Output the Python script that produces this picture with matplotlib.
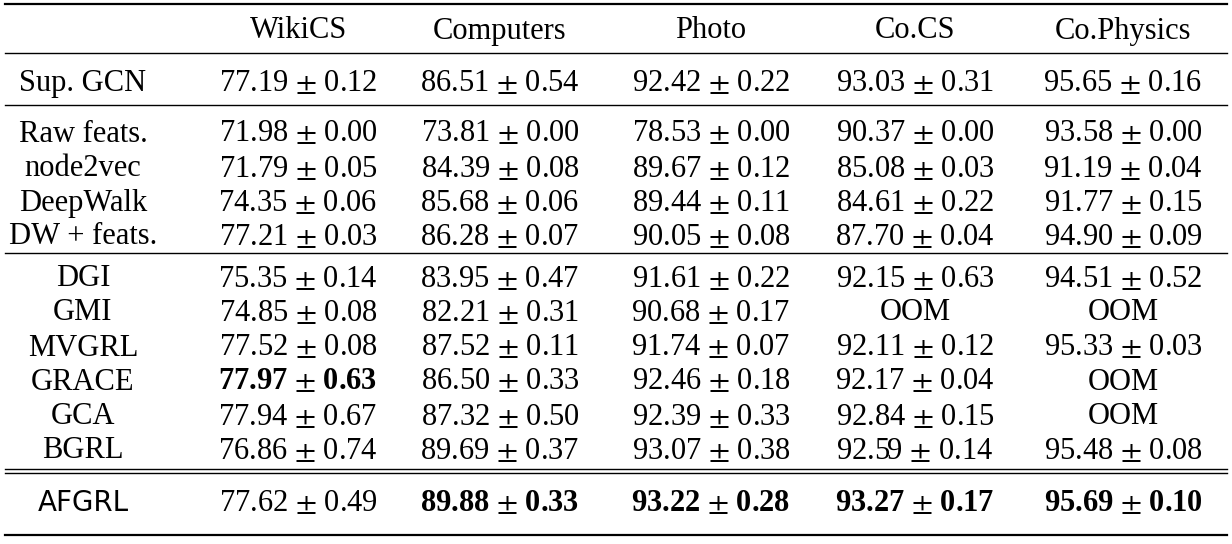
import matplotlib.pyplot as plt

datasets = ["WikiCS", "Computers", "Photo", "Co.CS", "Co.Physics"]
methods = ["Sup. GCN", "Raw feats.", "node2vec", "DeepWalk", "DW + feats.",
           "DGI", "GMI", "MVGRL", "GRACE", "GCA", "BGRL", "AFGRL"]
means = [
    ["77.19", "86.51", "92.42", "93.03", "95.65"],
    ["71.98", "73.81", "78.53", "90.37", "93.58"],
    ["71.79", "84.39", "89.67", "85.08", "91.19"],
    ["74.35", "85.68", "89.44", "84.61", "91.77"],
    ["77.21", "86.28", "90.05", "87.70", "94.90"],
    ["75.35", "83.95", "91.61", "92.15", "94.51"],
    ["74.85", "82.21", "90.68", "OOM", "OOM"],
    ["77.52", "87.52", "91.74", "92.11", "95.33"],
    ["77.97", "86.50", "92.46", "92.17", "OOM"],
    ["77.94", "87.32", "92.39", "92.84", "OOM"],
    ["76.86", "89.69", "93.07", "92.59", "95.48"],
    ["77.62", "89.88", "93.22", "93.27", "95.69"],
]
stds = [
    ["0.12", "0.54", "0.22", "0.31", "0.16"],
    ["0.00", "0.00", "0.00", "0.00", "0.00"],
    ["0.05", "0.08", "0.12", "0.03", "0.04"],
    ["0.06", "0.06", "0.11", "0.22", "0.15"],
    ["0.03", "0.07", "0.08", "0.04", "0.09"],
    ["0.14", "0.47", "0.22", "0.63", "0.52"],
    ["0.08", "0.31", "0.17", "", ""],
    ["0.08", "0.11", "0.07", "0.12", "0.03"],
    ["0.63", "0.33", "0.18", "0.04", ""],
    ["0.67", "0.50", "0.33", "0.15", ""],
    ["0.74", "0.37", "0.38", "0.14", "0.08"],
    ["0.49", "0.33", "0.28", "0.17", "0.10"],
]
bold = {(8, 0), (11, 1), (11, 2), (11, 3), (11, 4)}

plt.rcParams["mathtext.fontset"] = "stix"

fig = plt.figure(figsize=(12.32, 5.44), dpi=100)
ax = fig.add_axes([0, 0, 1, 1])
ax.set_xlim(0, 1232)
ax.set_ylim(544, 0)
ax.axis("off")

serif = "Liberation Serif"
fs = 22
dy = 3
col_x = [298, 500, 711, 915, 1123]
row_y = [80, 131, 166, 200, 234, 276, 310, 345, 379, 414, 448, 500]

for x, d in zip(col_x, datasets):
    ax.text(x, 28 + dy, d, ha="center", va="center", fontsize=fs, family=serif)

for i, (m, y) in enumerate(zip(methods, row_y)):
    fam = "DejaVu Sans" if m == "AFGRL" else serif
    ax.text(83, y + dy, m, ha="center", va="center",
            fontsize=fs - (2 if m == "AFGRL" else 0), family=fam)
    for j, x in enumerate(col_x):
        s = means[i][j] if stds[i][j] == "" else means[i][j] + r" $\pm$ " + stds[i][j]
        ax.text(x, y + dy, s, ha="center", va="center", fontsize=fs, family=serif,
                fontweight="bold" if (i, j) in bold else "normal")

for y, lw in [(4, 1.6), (53, 1), (105, 1), (253, 1), (469, 1), (473, 1), (535, 1.6)]:
    ax.plot([5, 1227], [y, y], color="black", lw=lw)

fig.savefig("out.png", dpi=100)
